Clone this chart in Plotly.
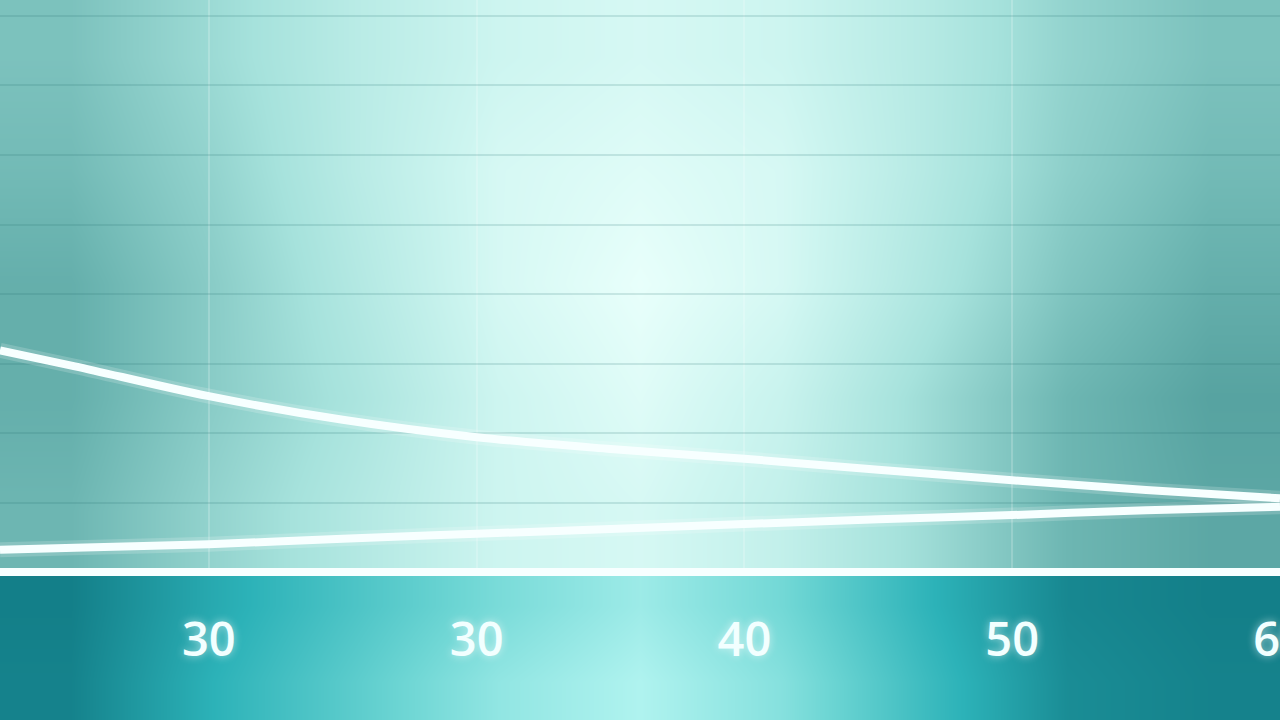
import plotly.graph_objects as go
import numpy as np

# ---- data ----
tick_positions = [0, 1, 2, 3, 4]
tick_labels = ["30", "30", "40", "50", "60"]

x_points = [-0.78, -0.5, 0, 0.5, 1, 1.5, 2, 2.5, 3, 3.5, 4]
upper_series = [3.19, 2.96, 2.53, 2.19, 1.94, 1.77, 1.63, 1.47, 1.32, 1.18, 1.06]
lower_series = [0.32, 0.35, 0.40, 0.48, 0.55, 0.62, 0.69, 0.76, 0.82, 0.89, 0.94]

# background glow (brightness, left->right, top->bottom)
bg_cols = [0, 0.125, 0.25, 0.375, 0.5, 0.625, 0.75, 0.875, 1.0]
plot_glow = [
    [0.38, 0.55, 0.72, 0.85, 0.90, 0.85, 0.70, 0.50, 0.38],
    [0.33, 0.50, 0.72, 0.90, 0.95, 0.90, 0.70, 0.47, 0.33],
    [0.25, 0.45, 0.68, 0.90, 1.00, 0.90, 0.66, 0.40, 0.25],
    [0.25, 0.45, 0.63, 0.85, 0.95, 0.82, 0.56, 0.30, 0.17],
    [0.30, 0.50, 0.68, 0.85, 0.90, 0.78, 0.56, 0.30, 0.20],
]
base_glow = [
    [0.10, 0.35, 0.55, 0.75, 0.90, 0.72, 0.42, 0.15, 0.10],
    [0.12, 0.40, 0.62, 0.85, 0.98, 0.80, 0.48, 0.18, 0.12],
]

axis_split = 152 / 720

fig = go.Figure()

# background heatmaps on hidden full-page axes (x / y)
top_edges = list(np.linspace(1.0, axis_split, len(plot_glow) + 1))
bot_edges = list(np.linspace(axis_split, 0.0, len(base_glow) + 1))
col_edges = list(np.linspace(0, 1, len(bg_cols) + 1))

fig.add_trace(go.Heatmap(
    x=col_edges, y=top_edges, z=plot_glow, zsmooth="best", zmin=0, zmax=1,
    colorscale=[[0, "#3a8a8a"], [0.3, "#6db6b2"], [0.6, "#a6e2dc"],
                [0.85, "#cdf5f0"], [1, "#e8fffb"]],
    showscale=False, hoverinfo="skip", xaxis="x", yaxis="y"))
fig.add_trace(go.Heatmap(
    x=col_edges, y=bot_edges, z=base_glow, zsmooth="best", zmin=0, zmax=1,
    colorscale=[[0, "#0b6e79"], [0.4, "#2cb2b8"], [0.7, "#6ed6d4"],
                [1, "#b4f5f1"]],
    showscale=False, hoverinfo="skip", xaxis="x", yaxis="y"))

# data lines with a soft glow
for series in (upper_series, lower_series):
    fig.add_trace(go.Scatter(
        x=x_points, y=series, mode="lines", line_shape="spline",
        line=dict(color="rgba(255,255,255,0.18)", width=15),
        hoverinfo="skip", showlegend=False, xaxis="x2", yaxis="y2"))
    fig.add_trace(go.Scatter(
        x=x_points, y=series, mode="lines", line_shape="spline",
        line=dict(color="#f7ffff", width=8),
        showlegend=False, xaxis="x2", yaxis="y2"))

fig.update_layout(
    width=1280, height=720,
    margin=dict(l=0, r=0, t=0, b=0),
    paper_bgcolor="#5fb0ad",
    plot_bgcolor="rgba(0,0,0,0)",
    showlegend=False,
    xaxis=dict(domain=[0, 1], range=[0, 1], visible=False, fixedrange=True),
    yaxis=dict(domain=[0, 1], range=[0, 1], visible=False, fixedrange=True),
    xaxis2=dict(
        domain=[0, 1], anchor="y2", range=[-0.78, 4.0],
        tickvals=tick_positions, ticktext=tick_labels,
        showgrid=True, gridcolor="rgba(255,255,255,0.2)", gridwidth=2,
        showline=True, linecolor="#f7ffff", linewidth=8,
        ticks="outside", ticklen=24, tickcolor="rgba(0,0,0,0)",
        tickfont=dict(family="Open Sans", size=47, color="#f2ffff", weight=600,
                      shadow="0px 0px 8px rgba(255,255,255,0.6)"),
        ticklabeloverflow="allow", automargin=False, zeroline=False,
    ),
    yaxis2=dict(
        domain=[axis_split, 1], anchor="x2", range=[0.058, 8.23],
        tick0=0, dtick=1, showticklabels=False, ticks="",
        showgrid=True, gridcolor="rgba(40,115,115,0.16)", gridwidth=2,
        zeroline=False, showline=False,
    ),
    shapes=[dict(type="line", xref="paper", yref="paper", x0=0, x1=1,
                 y0=axis_split + 0.006, y1=axis_split + 0.006,
                 line=dict(color="rgba(255,255,255,0.25)", width=18),
                 layer="below")],
)

fig.write_html("out.html", config={"displayModeBar": False},
               post_script="document.body.style.margin='0';")
